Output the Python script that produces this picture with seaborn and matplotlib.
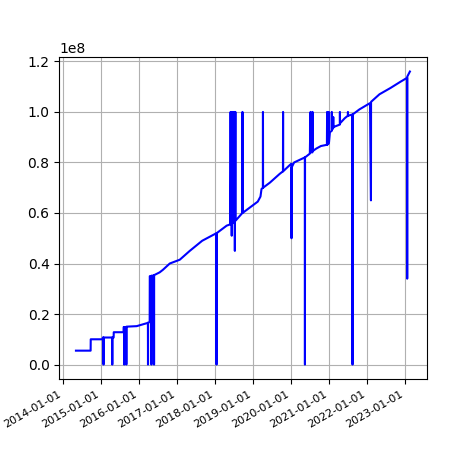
import matplotlib
matplotlib.use("Agg")
import matplotlib.pyplot as plt
import matplotlib.dates as mdates
import seaborn as sns
import pandas as pd

dates = [
    "2014-05-08", "2014-09-26", "2014-09-27", "2015-01-20", "2015-01-21",
    "2015-01-27", "2015-01-28", "2015-01-29", "2015-04-21", "2015-04-22",
    "2015-04-23", "2015-05-05", "2015-05-06", "2015-08-08", "2015-08-09",
    "2015-08-13", "2015-08-14", "2015-08-15", "2015-09-03", "2015-09-04",
    "2015-09-05", "2015-12-12", "2016-03-29", "2016-03-30", "2016-03-31",
    "2016-04-15", "2016-04-16", "2016-05-01", "2016-05-02", "2016-05-03",
    "2016-05-26", "2016-05-27", "2016-05-28", "2016-07-20", "2016-08-20",
    "2016-10-25", "2017-01-29", "2017-05-05", "2017-09-01", "2018-01-16",
    "2018-01-17", "2018-01-18", "2018-04-25", "2018-05-30", "2018-06-01",
    "2018-06-03", "2018-06-08", "2018-06-12", "2018-06-17", "2018-06-22",
    "2018-06-27", "2018-07-02", "2018-07-07", "2018-07-12", "2018-07-17",
    "2018-07-20", "2018-09-22", "2018-09-23", "2018-09-24", "2019-02-17",
    "2019-03-15", "2019-03-25", "2019-04-07", "2019-04-08", "2019-04-09",
    "2019-06-13", "2019-09-16", "2019-10-17", "2019-10-18", "2019-10-19",
    "2019-12-22", "2020-01-06", "2020-01-07", "2020-01-08", "2020-02-01",
    "2020-05-14", "2020-05-15", "2020-05-16", "2020-07-01", "2020-07-08",
    "2020-07-09", "2020-07-26", "2020-07-27", "2020-07-28", "2020-09-01",
    "2020-10-15", "2020-12-12", "2020-12-14", "2020-12-15", "2020-12-30",
    "2020-12-31", "2021-01-01", "2021-01-10", "2021-01-27", "2021-01-28",
    "2021-01-29", "2021-02-10", "2021-02-11", "2021-02-12", "2021-04-15",
    "2021-04-16", "2021-04-17", "2021-06-01", "2021-07-01", "2021-07-02",
    "2021-07-03", "2021-08-14", "2021-08-15", "2021-08-16", "2021-10-20",
    "2022-01-30", "2022-02-08", "2022-02-09", "2022-05-01", "2022-08-15",
    "2022-11-20", "2023-01-21", "2023-01-22", "2023-01-23", "2023-02-17",
]

values = [
    5.5e6, 5.5e6, 10.0e6, 10.0e6, 10.7e6,
    10.7e6, 0.0, 10.7e6, 10.7e6, 0.0,
    10.7e6, 10.7e6, 12.8e6, 12.8e6, 14.8e6,
    14.8e6, 0.0, 14.8e6, 14.8e6, 0.0,
    15.0e6, 15.2e6, 16.5e6, 0.0, 16.6e6,
    16.8e6, 35.0e6, 35.0e6, 0.0, 35.2e6,
    35.2e6, 0.0, 35.4e6, 36.5e6, 37.5e6,
    40.0e6, 41.5e6, 45.0e6, 49.0e6, 52.0e6,
    0.0, 52.0e6, 55.0e6, 55.5e6, 100.0e6,
    55.5e6, 100.0e6, 51.0e6, 100.0e6, 56.0e6,
    100.0e6, 56.0e6, 100.0e6, 45.0e6, 100.0e6,
    57.0e6, 60.0e6, 100.0e6, 60.0e6, 64.5e6,
    66.5e6, 69.5e6, 70.0e6, 100.0e6, 70.0e6,
    72.0e6, 75.5e6, 76.5e6, 100.0e6, 76.5e6,
    79.0e6, 79.5e6, 50.0e6, 78.0e6, 80.0e6,
    82.0e6, 0.0, 82.0e6, 83.5e6, 100.0e6,
    84.0e6, 84.0e6, 100.0e6, 84.5e6, 85.5e6,
    86.5e6, 87.0e6, 100.0e6, 87.0e6, 87.5e6,
    100.0e6, 88.0e6, 92.0e6, 92.5e6, 100.0e6,
    93.0e6, 93.5e6, 98.0e6, 94.0e6, 95.0e6,
    100.0e6, 95.5e6, 97.5e6, 98.5e6, 100.0e6,
    98.5e6, 99.0e6, 0.0, 99.0e6, 101.0e6,
    103.5e6, 65.0e6, 104.0e6, 107.0e6, 109.5e6,
    112.0e6, 113.5e6, 34.0e6, 114.0e6, 116.0e6,
]

df = pd.DataFrame({"date": pd.to_datetime(dates), "value": values})

fig, ax = plt.subplots(figsize=(4.74, 4.74), dpi=100)
sns.lineplot(data=df, x="date", y="value", estimator=None, sort=False,
             color="blue", linewidth=1.5, ax=ax)
ax.set_xlabel("")
ax.set_ylabel("")
ax.grid(True)
ax.xaxis.set_major_locator(mdates.YearLocator())
ax.xaxis.set_major_formatter(mdates.DateFormatter("%Y-%m-%d"))
ax.tick_params(axis="x", labelsize=8)
fig.autofmt_xdate()
fig.savefig("out.png", dpi=100)
